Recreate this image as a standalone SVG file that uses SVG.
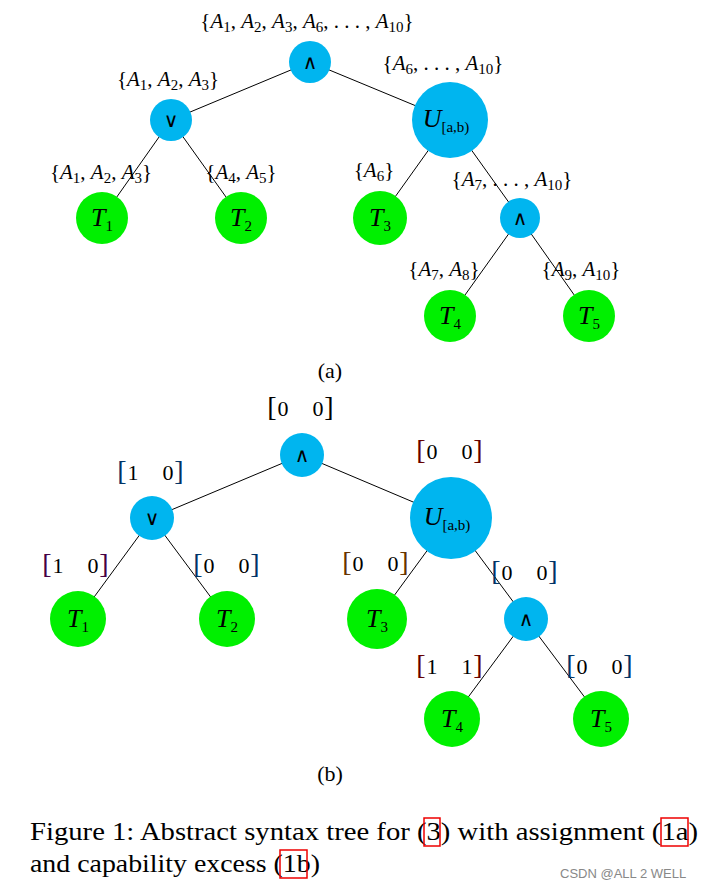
<svg xmlns="http://www.w3.org/2000/svg" width="718" height="889" viewBox="0 0 718 889">
<style>
.op{fill:#00b5ef}.lf{fill:#00f000}
.e line{stroke:#000;stroke-width:1}
text{font-family:"Liberation Serif",serif;fill:#000}
.l{font-size:21px;text-anchor:middle}
.m{font-style:italic}
.n{font-size:26px;text-anchor:middle}
.s{font-size:15px;font-style:normal}
.v{font-size:22px;text-anchor:middle}
.br{font-size:28px}
.sym{font-family:"DejaVu Sans",sans-serif;font-size:20px;text-anchor:middle}
.cap{font-size:26px}
.box{fill:none;stroke:#e00;stroke-width:1.5}
</style>
<rect width="718" height="889" fill="#fff"/>
<g class="e" id="edges-a">
<line x1="310" y1="62" x2="171" y2="120"/><line x1="310" y1="62" x2="450" y2="120"/>
<line x1="171" y1="120" x2="102" y2="218"/><line x1="171" y1="120" x2="241" y2="218"/>
<line x1="450" y1="120" x2="380" y2="218"/><line x1="450" y1="120" x2="520" y2="218"/>
<line x1="520" y1="218" x2="450" y2="316"/><line x1="520" y1="218" x2="589" y2="316"/>
</g>
<g id="a-and"><circle class="op" cx="310" cy="62" r="21"/><text class="sym" x="310" y="69">∧</text></g>
<g id="a-or"><circle class="op" cx="171" cy="120" r="21"/><text class="sym" x="171" y="127">∨</text></g>
<g id="a-U"><circle class="op" cx="450" cy="120" r="38"/><text class="n m" x="446" y="127">U<tspan class="s" dy="5">[a,b)</tspan></text></g>
<g id="a-and2"><circle class="op" cx="520" cy="218" r="20"/><text class="sym" x="520" y="225">∧</text></g>
<g id="a-T1"><circle class="lf" cx="102" cy="218" r="26"/><text class="n m" x="102" y="226">T<tspan class="s" dy="5">1</tspan></text></g>
<g id="a-T2"><circle class="lf" cx="241" cy="218" r="26"/><text class="n m" x="241" y="226">T<tspan class="s" dy="5">2</tspan></text></g>
<g id="a-T3"><circle class="lf" cx="380" cy="218" r="27"/><text class="n m" x="380" y="226">T<tspan class="s" dy="5">3</tspan></text></g>
<g id="a-T4"><circle class="lf" cx="450" cy="316" r="26"/><text class="n m" x="450" y="324">T<tspan class="s" dy="5">4</tspan></text></g>
<g id="a-T5"><circle class="lf" cx="589" cy="316" r="26"/><text class="n m" x="589" y="324">T<tspan class="s" dy="5">5</tspan></text></g>
<g id="a-labels">
<text class="l" x="307" y="28">{<tspan class="m">A</tspan><tspan class="s" dy="4">1</tspan><tspan dy="-4">, </tspan><tspan class="m">A</tspan><tspan class="s" dy="4">2</tspan><tspan dy="-4">, </tspan><tspan class="m">A</tspan><tspan class="s" dy="4">3</tspan><tspan dy="-4">, </tspan><tspan class="m">A</tspan><tspan class="s" dy="4">6</tspan><tspan dy="-4">, . . . , </tspan><tspan class="m">A</tspan><tspan class="s" dy="4">10</tspan><tspan dy="-4">}</tspan></text>
<text class="l" x="443" y="70">{<tspan class="m">A</tspan><tspan class="s" dy="4">6</tspan><tspan dy="-4">, . . . , </tspan><tspan class="m">A</tspan><tspan class="s" dy="4">10</tspan><tspan dy="-4">}</tspan></text>
<text class="l" x="168" y="86">{<tspan class="m">A</tspan><tspan class="s" dy="4">1</tspan><tspan dy="-4">, </tspan><tspan class="m">A</tspan><tspan class="s" dy="4">2</tspan><tspan dy="-4">, </tspan><tspan class="m">A</tspan><tspan class="s" dy="4">3</tspan><tspan dy="-4">}</tspan></text>
<text class="l" x="101" y="179">{<tspan class="m">A</tspan><tspan class="s" dy="4">1</tspan><tspan dy="-4">, </tspan><tspan class="m">A</tspan><tspan class="s" dy="4">2</tspan><tspan dy="-4">, </tspan><tspan class="m">A</tspan><tspan class="s" dy="4">3</tspan><tspan dy="-4">}</tspan></text>
<text class="l" x="241" y="179">{<tspan class="m">A</tspan><tspan class="s" dy="4">4</tspan><tspan dy="-4">, </tspan><tspan class="m">A</tspan><tspan class="s" dy="4">5</tspan><tspan dy="-4">}</tspan></text>
<text class="l" x="374" y="177">{<tspan class="m">A</tspan><tspan class="s" dy="4">6</tspan><tspan dy="-4">}</tspan></text>
<text class="l" x="512" y="186">{<tspan class="m">A</tspan><tspan class="s" dy="4">7</tspan><tspan dy="-4">, . . . , </tspan><tspan class="m">A</tspan><tspan class="s" dy="4">10</tspan><tspan dy="-4">}</tspan></text>
<text class="l" x="444" y="276">{<tspan class="m">A</tspan><tspan class="s" dy="4">7</tspan><tspan dy="-4">, </tspan><tspan class="m">A</tspan><tspan class="s" dy="4">8</tspan><tspan dy="-4">}</tspan></text>
<text class="l" x="581" y="276">{<tspan class="m">A</tspan><tspan class="s" dy="4">9</tspan><tspan dy="-4">, </tspan><tspan class="m">A</tspan><tspan class="s" dy="4">10</tspan><tspan dy="-4">}</tspan></text>
<text class="v" x="330" y="378">(a)</text>
</g>
<g class="e" id="edges-b">
<line x1="302" y1="455" x2="152" y2="518"/><line x1="302" y1="455" x2="451" y2="518"/>
<line x1="152" y1="518" x2="78" y2="619"/><line x1="152" y1="518" x2="227" y2="619"/>
<line x1="451" y1="518" x2="377" y2="619"/><line x1="451" y1="518" x2="526" y2="619"/>
<line x1="526" y1="619" x2="452" y2="719"/><line x1="526" y1="619" x2="601" y2="719"/>
</g>
<g id="b-and"><circle class="op" cx="302" cy="455" r="22"/><text class="sym" x="302" y="462">∧</text></g>
<g id="b-or"><circle class="op" cx="152" cy="518" r="22"/><text class="sym" x="152" y="525">∨</text></g>
<g id="b-U"><circle class="op" cx="451" cy="518" r="41"/><text class="n m" x="447" y="525">U<tspan class="s" dy="5">[a,b)</tspan></text></g>
<g id="b-and2"><circle class="op" cx="526" cy="619" r="22"/><text class="sym" x="526" y="626">∧</text></g>
<g id="b-T1"><circle class="lf" cx="78" cy="619" r="28"/><text class="n m" x="78" y="627">T<tspan class="s" dy="5">1</tspan></text></g>
<g id="b-T2"><circle class="lf" cx="227" cy="619" r="28"/><text class="n m" x="227" y="627">T<tspan class="s" dy="5">2</tspan></text></g>
<g id="b-T3"><circle class="lf" cx="377" cy="619" r="30"/><text class="n m" x="377" y="627">T<tspan class="s" dy="5">3</tspan></text></g>
<g id="b-T4"><circle class="lf" cx="452" cy="719" r="28"/><text class="n m" x="452" y="727">T<tspan class="s" dy="5">4</tspan></text></g>
<g id="b-T5"><circle class="lf" cx="601" cy="719" r="28"/><text class="n m" x="601" y="727">T<tspan class="s" dy="5">5</tspan></text></g>
<g id="b-labels">
<text class="v" y="416"><tspan class="br" x="272">[</tspan><tspan x="283">0</tspan><tspan x="318">0</tspan><tspan class="br" x="329">]</tspan></text>
<text class="v" y="459"><tspan class="br" x="421" fill="#600">[</tspan><tspan x="432">0</tspan><tspan x="467">0</tspan><tspan class="br" x="478" fill="#600">]</tspan></text>
<text class="v" y="480"><tspan class="br" x="122" fill="#036">[</tspan><tspan x="133">1</tspan><tspan x="168">0</tspan><tspan class="br" x="179" fill="#036">]</tspan></text>
<text class="v" y="573"><tspan class="br" x="47" fill="#404">[</tspan><tspan x="58">1</tspan><tspan x="93">0</tspan><tspan class="br" x="104" fill="#404">]</tspan></text>
<text class="v" y="573"><tspan class="br" x="198" fill="#036">[</tspan><tspan x="209">0</tspan><tspan x="244">0</tspan><tspan class="br" x="255" fill="#036">]</tspan></text>
<text class="v" y="571"><tspan class="br" x="347" fill="#630">[</tspan><tspan x="358">0</tspan><tspan x="393">0</tspan><tspan class="br" x="404" fill="#630">]</tspan></text>
<text class="v" y="580"><tspan class="br" x="496" fill="#036">[</tspan><tspan x="507">0</tspan><tspan x="542">0</tspan><tspan class="br" x="553" fill="#036">]</tspan></text>
<text class="v" y="674"><tspan class="br" x="421" fill="#600">[</tspan><tspan x="432">1</tspan><tspan x="467">1</tspan><tspan class="br" x="478" fill="#600">]</tspan></text>
<text class="v" y="674"><tspan class="br" x="571" fill="#036">[</tspan><tspan x="582">0</tspan><tspan x="617">0</tspan><tspan class="br" x="628" fill="#036">]</tspan></text>
<text class="v" x="330" y="781">(b)</text>
</g>
<g id="caption">
<text class="cap" x="30" y="840" textLength="668" lengthAdjust="spacingAndGlyphs">Figure 1: Abstract syntax tree for (3) with assignment (1a)</text>
<text class="cap" x="30" y="872" textLength="290" lengthAdjust="spacingAndGlyphs">and capability excess (1b)</text>
<rect class="box" x="424" y="818" width="16" height="28"/>
<rect class="box" x="661" y="818" width="27" height="28"/>
<rect class="box" x="280" y="850" width="27" height="28"/>
<text x="560" y="878" style="font-family:'Liberation Sans',sans-serif;font-size:13px;fill:#888">CSDN @ALL 2 WELL</text>
</g>
</svg>
